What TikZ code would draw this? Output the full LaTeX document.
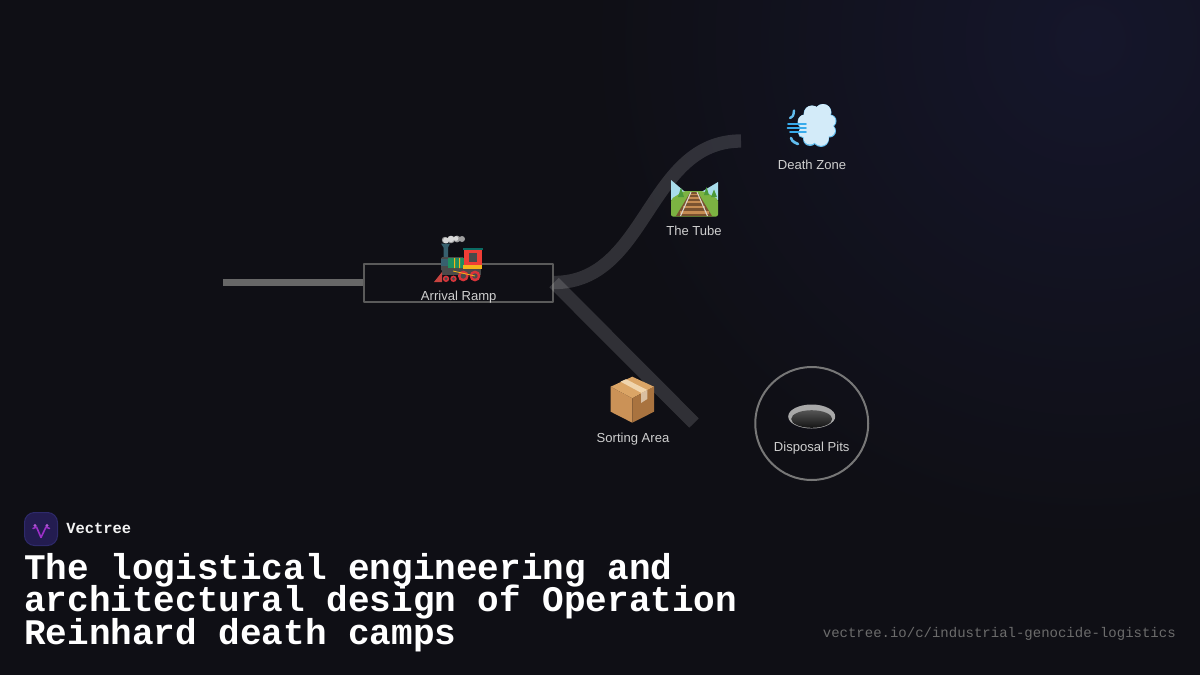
\documentclass[tikz,border=0pt]{standalone}
\usepackage{fontspec}
\setmainfont{Liberation Sans}
\setmonofont{Liberation Mono}
\definecolor{bgdark}{HTML}{0F0F15}
\definecolor{bgblue}{HTML}{15162B}
\definecolor{edgegrey}{HTML}{5A5A5A}
\definecolor{flowgrey}{HTML}{676767}
\definecolor{labelgrey}{HTML}{CFCFCF}
\definecolor{urlgrey}{HTML}{6C6C6C}
\definecolor{ringgrey}{HTML}{777777}
% train
\definecolor{smokea}{HTML}{9E9E9E}\definecolor{smokeb}{HTML}{D8D8D8}
\definecolor{stackc}{HTML}{37606E}\definecolor{bodyd}{HTML}{4A4A4A}
\definecolor{boilg}{HTML}{1F8F5F}\definecolor{cabr}{HTML}{EF3E36}
\definecolor{rooft}{HTML}{0B6B63}\definecolor{bandy}{HTML}{F4B41A}
\definecolor{wheelr}{HTML}{D9343A}\definecolor{catch}{HTML}{C8433F}
% tube
\definecolor{skyb}{HTML}{A8DCEB}\definecolor{grassg}{HTML}{7CB342}
\definecolor{treeg}{HTML}{4C9A3A}\definecolor{ballast}{HTML}{7A5230}
\definecolor{tiec}{HTML}{C58B52}\definecolor{railc}{HTML}{DDD8CF}
% wind
\definecolor{cloudl}{HTML}{D3EBF9}\definecolor{cloude}{HTML}{62BDEE}
\definecolor{windl}{HTML}{38ABEB}
% box
\definecolor{boxt}{HTML}{DBA566}\definecolor{boxl}{HTML}{CB9257}\definecolor{boxr}{HTML}{A9733F}
\definecolor{tapet}{HTML}{F0D5AE}\definecolor{taped}{HTML}{D9BFA2}
% pit
\definecolor{pitrim}{HTML}{A8A8A8}\definecolor{pittop}{HTML}{555555}\definecolor{pitlow}{HTML}{141414}
% logo
\definecolor{logobg}{HTML}{231C50}\definecolor{logoedge}{HTML}{2E2A6B}\definecolor{logov}{HTML}{9B2FC8}
\tikzset{
  lbl/.style={text=labelgrey,font=\fontsize{9.8pt}{12pt}\selectfont,inner sep=0pt,anchor=center},
  titleline/.style={text=white,font=\ttfamily\bfseries\fontsize{27pt}{27pt}\selectfont,anchor=base west,inner sep=0pt},
  rampbox/.style={draw=edgegrey,line width=1.5pt,fill=none,minimum width=141.4pt,minimum height=28.5pt,inner sep=0pt},
  ringbox/.style={circle,draw=ringgrey,line width=1.5pt,minimum size=84.75pt,inner sep=0pt},
  widepipe/.style={line width=10pt,draw=white,draw opacity=0.14},
  inflow/.style={line width=5.25pt,draw=flowgrey},
}
\begin{document}
\begin{tikzpicture}[x=0.75pt,y=-0.75pt,line join=round]
\useasboundingbox (0,0) rectangle (1200,675);
\fill[bgdark] (0,0) rectangle (1200,675);
\begin{scope}
\clip (0,0) rectangle (1200,675);
\shade[inner color=bgblue,outer color=bgdark] (1090,40) circle (500);
\end{scope}

% nodes
\node[rampbox] (ramp) at (458.75,282.5) {};
\node[ringbox] (pits) at (811.75,423.5) {};
\coordinate (inflowstart) at (223,282.5);
\coordinate (tubeend) at (741,141);
\coordinate (sortend) at (694,423);

% connectors
\draw[inflow] (inflowstart) -- (ramp.west);
\draw[widepipe] (ramp.east) .. controls +(94,0) and (647,141) .. (tubeend);
\draw[widepipe] (ramp.east) -- (sortend);

% train
\fill[smokea] (445,240) circle (3.2) (451,239.5) circle (3.8) (457,239) circle (3.4) (462,239) circle (3);
\fill[smokeb] (446,240.5) circle (3) (451,239) circle (3.2) (456,238.5) circle (2.4);
\fill[stackc] (441,243.5) -- (450,243.5) -- (448,247.5) -- (448,258) -- (443.5,258) -- (443.5,247.5) -- cycle;
\fill[bodyd,rounded corners=1pt] (441,257) rectangle (464,271);
\fill[stackc] (441,258.5) rectangle (448,266);
\fill[boilg] (448,258) rectangle (463.5,268);
\fill[bandy] (454,258) rectangle (455,268) (459,258) rectangle (460,268);
\fill[cabr] (464,249) rectangle (481.5,265);
\fill[rooft] (462.5,247.5) rectangle (482.5,250);
\fill[bodyd] (469.3,253) rectangle (476.5,261.5);
\fill[bandy] (463,265) rectangle (481.5,269);
\fill[bodyd] (442,269) rectangle (481,275);
\fill[catch] (434,282) -- (442,272) -- (442,282) -- cycle;
\foreach \cx/\cy/\cr in {446/278.8/3.2,453.5/278.8/3.2,463.3/276/5.4,475/276/5.4}{
  \fill[wheelr] (\cx,\cy) circle (\cr);
  \fill[bodyd] (\cx,\cy) circle (\cr*0.5);
}
\draw[bandy,line width=0.6pt] (453,271) -- (475,276);
\node[lbl] (ramplbl) at (458.75,297.5) {Arrival Ramp};

% tube / railway
\fill[skyb] (671,180) -- (684,191) -- (703,191) -- (718,182) -- (718,200) -- (671,200) -- cycle;
\fill[grassg,rounded corners=1.5pt] (671,199) -- (684,191) -- (703,191) -- (718,199) -- (718,216.5) -- (671,216.5) -- cycle;
\fill[treeg] (678,197) -- (681,187.5) -- (684,197) -- cycle (704,195) -- (706.5,187) -- (709,195) -- cycle (711,197) -- (714,189.5) -- (717,197) -- cycle;
\fill[ballast] (690.5,192) -- (697.5,192) -- (712,216) -- (676,216) -- cycle;
\foreach \ya/\xa/\xb/\yh in {193.5/689.5/698.5/1.3,197/688/700/1.6,201/686/702/1.9,205.5/683/705/2.3,210.5/679.5/708.5/3}{
  \fill[tiec] (\xa,\ya) rectangle (\xb,\ya+\yh);
}
\draw[railc,line width=0.8pt] (691,192) -- (680.5,216) (697,192) -- (707.5,216);
\node[lbl] (tubelbl) at (694,230.5) {The Tube};

% wind
\fill[cloude] (805,122) circle (7.5) (812,114) circle (8.5) (823,112.5) circle (8.5) (830,121) circle (6.5) (829.5,131) circle (6.5) (821,139) circle (8) (810,139) circle (7) (803,133) circle (5);
\fill[cloudl] (805,121.5) circle (7) (812,113.5) circle (8) (823,112) circle (8) (829.5,121) circle (6) (829,130.5) circle (6) (821,138) circle (7.8) (810,138) circle (6.5) (803,132.5) circle (4.5) (816,125) circle (12);
\draw[windl,line width=1.2pt,line cap=round] (788,124) -- (806,124) (787.5,128) -- (806,128) (790,132) -- (806,132);
\draw[cloude,line width=1.8pt,line cap=round] (794,110.5) .. controls (792,113) and (796,115) .. (790,118);
\draw[cloude,line width=2pt,line cap=round] (791,138) .. controls (792,142) and (796,143) .. (798,144);
\node[lbl] (deathlbl) at (812,164.5) {Death Zone};

% box
\fill[boxt] (632.3,376.7) -- (654,386.7) -- (632.3,398.3) -- (610.7,386.7) -- cycle;
\fill[boxl] (610.7,386.7) -- (632.3,398.3) -- (632.3,422.7) -- (610.7,411.7) -- cycle;
\fill[boxr] (654,386.7) -- (632.3,398.3) -- (632.3,422.7) -- (654,411.7) -- cycle;
\fill[tapet] (620.5,381.6) -- (626,379.2) -- (647.3,390) -- (641.5,393) -- cycle;
\fill[taped] (641,393.2) -- (647.3,390) -- (647.3,399) -- (641,403) -- cycle;
\node[lbl] (sortlbl) at (633,439.5) {Sorting Area};

% pit
\fill[pitrim] (811.7,416.5) ellipse (23.5 and 12);
\shade[top color=pittop,bottom color=pitlow] (811.7,419) ellipse (20.5 and 8.8);
\node[lbl] (pitslbl) at (811.75,448.5) {Disposal Pits};

% logo
\fill[logobg,draw=logoedge,line width=0.75pt,rounded corners=7.5pt] (24.5,512.5) rectangle (57.5,545.5);
\draw[logov,line width=1.2pt,line cap=round] (41,537.5) -- (36.5,527) (41,537.5) -- (46,527) (36.5,527) -- (33,528.5) (46,527) -- (49.5,528.5);
\fill[logov!80!white] (35,525.5) circle (1.6) (47,525.5) circle (1.6);

% brand + title
\node[anchor=base west,inner sep=0pt,text=white!90!gray,font=\ttfamily\bfseries\fontsize{11.6pt}{12pt}\selectfont] (brand) at (66,533) {Vectree};
\node[titleline] (t1) at (24,579.2) {The logistical engineering and};
\node[titleline] (t2) at (24,611.6) {architectural design of Operation};
\node[titleline] (t3) at (24,644.5) {Reinhard death camps};
\node[anchor=base east,inner sep=0pt,text=urlgrey,font=\ttfamily\fontsize{10.5pt}{12pt}\selectfont] (url) at (1176,637) {vectree.io/c/industrial-genocide-logistics};
\end{tikzpicture}
\end{document}
